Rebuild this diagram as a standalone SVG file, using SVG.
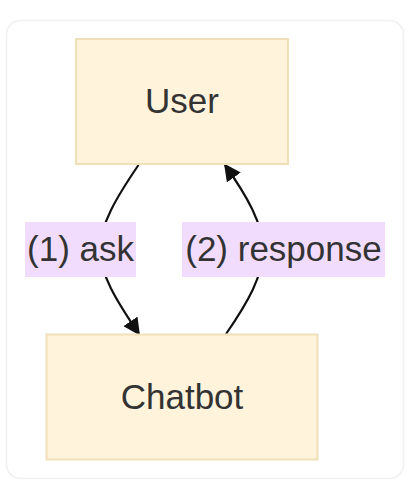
<svg xmlns="http://www.w3.org/2000/svg" width="412" height="492" viewBox="0 0 412 492">
<style>
.node rect{fill:#fff3dc;stroke:#f0e0b8;stroke-width:2}
.lbl rect{fill:#f2dcfe}
text{font-family:"Liberation Sans",Arial,sans-serif;fill:#333;text-anchor:middle}
.nt{font-size:35px}
.et{font-size:35px}
.edge{fill:none;stroke:#111;stroke-width:2.2}
</style>
<defs>
<marker id="ah" viewBox="0 0 10 10" refX="9" refY="5" markerWidth="17" markerHeight="17" markerUnits="userSpaceOnUse" orient="auto">
<path d="M0,0 L10,5 L0,10 z" fill="#111"/>
</marker>
</defs>
<rect x="6.5" y="20.5" width="397" height="458" rx="14" fill="#fff" stroke="#f0f0f0" stroke-width="1.5"/>
<g id="connectors">
<path class="edge" d="M138.5,165 C116,198 100,225 100,249.5 C100,274 116,300 139,334" marker-end="url(#ah)"/>
<path class="edge" d="M226,334 C248,302 263,276 263,249.5 C263,224 247,196 225,165" marker-end="url(#ah)"/>
</g>
<g id="User" class="node">
<rect x="76" y="39" width="212" height="125"/>
<text class="nt" x="182" y="113">User</text>
</g>
<g id="Chatbot" class="node">
<rect x="46.5" y="334.5" width="271" height="125"/>
<text class="nt" x="182" y="409">Chatbot</text>
</g>
<g id="label-ask" class="lbl">
<rect x="25" y="222" width="111" height="55"/>
<text class="et" x="80.5" y="261">(1) ask</text>
</g>
<g id="label-response" class="lbl">
<rect x="182" y="222" width="203" height="55"/>
<text class="et" x="283.5" y="261">(2) response</text>
</g>
</svg>
